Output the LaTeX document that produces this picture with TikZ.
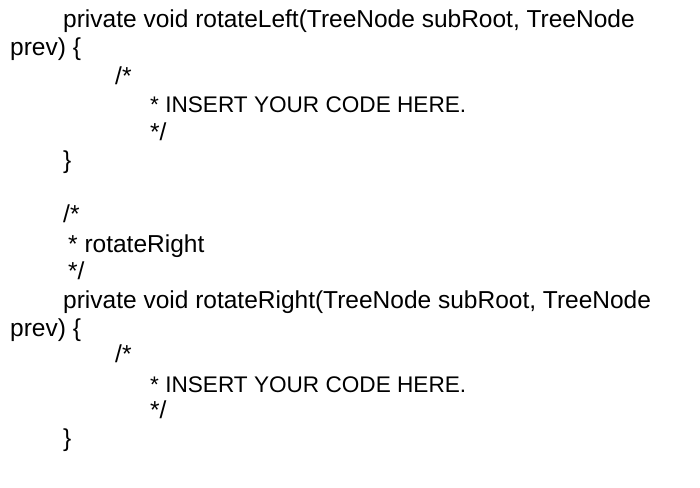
\documentclass[tikz,border=0pt]{standalone}
\usepackage{fontspec}
\setmainfont{Liberation Sans}
\begin{document}
\begin{tikzpicture}[x=1pt,y=-1pt,t/.style={anchor=base west,inner sep=0pt,font=\fontsize{24.5}{28}\selectfont},u/.style={t,font=\fontsize{22.6}{28}\selectfont}]
\useasboundingbox (0,0) rectangle (700,487);
\node[t] (a1) at (63,28) {private void rotateLeft(TreeNode subRoot, TreeNode};
\node[t] (a2) at (10,56) {prev) \{};
\node[t] (a3) at (115,84) {/*};
\node[u] (a4) at (150,112) {* INSERT YOUR CODE HERE.};
\node[t] (a5) at (150,140) {*/};
\node[t] (a6) at (63,168) {\}};
\node[t] (b1) at (63,222) {/*};
\node[t] (b2) at (68,252) {* rotateRight};
\node[t] (b3) at (68,279) {*/};
\node[t] (c1) at (63,308) {private void rotateRight(TreeNode subRoot, TreeNode};
\node[t] (c2) at (10,336) {prev) \{};
\node[t] (c3) at (115,362) {/*};
\node[u] (c4) at (150,392) {* INSERT YOUR CODE HERE.};
\node[t] (c5) at (150,418) {*/};
\node[t] (c6) at (63,446) {\}};
\end{tikzpicture}
\end{document}
